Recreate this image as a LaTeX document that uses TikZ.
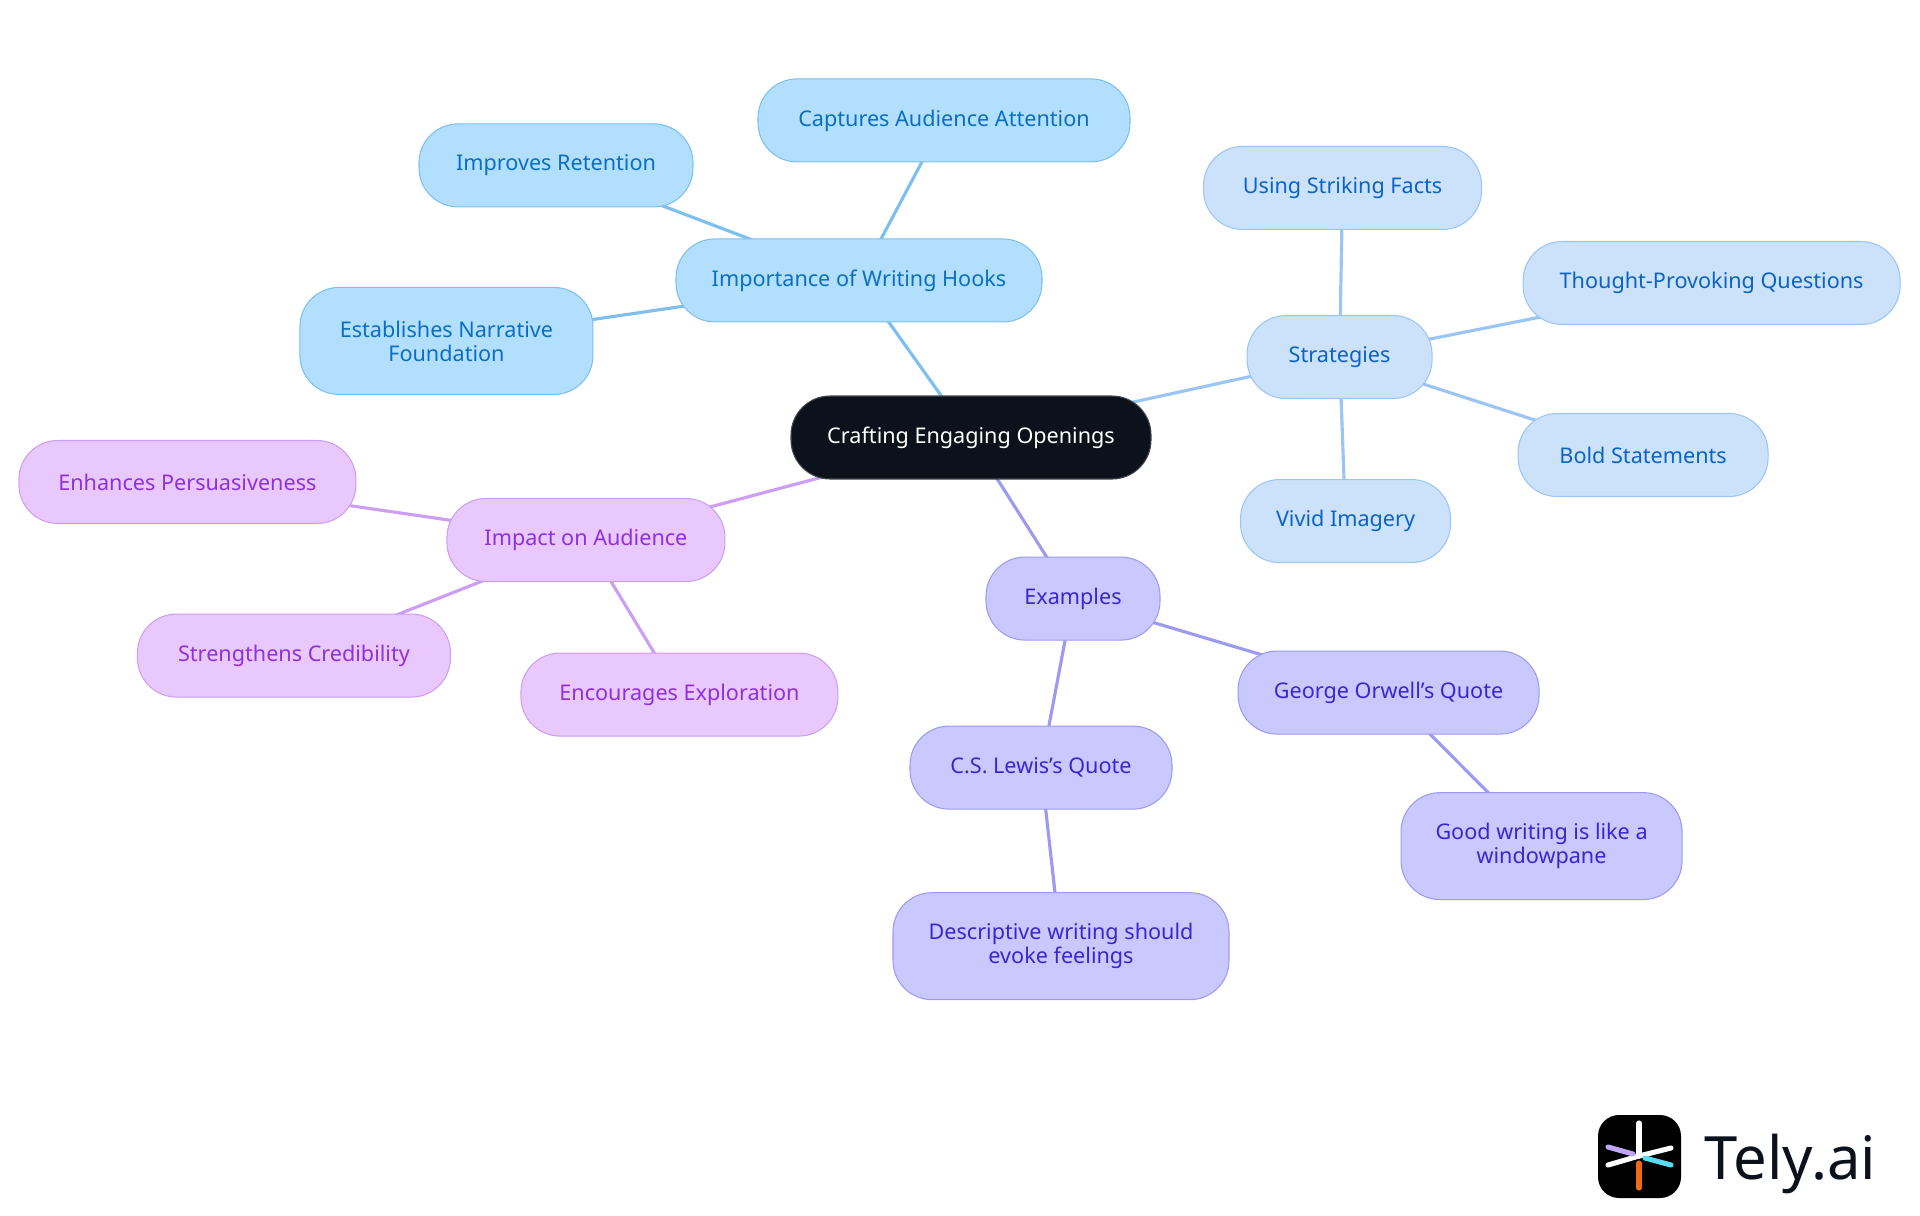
\documentclass[tikz,border=0pt]{standalone}
\usepackage{xcolor}
\usepackage{fontspec}
\setmainfont{Noto Sans}
\usepackage{tikz}
\usetikzlibrary{positioning,backgrounds,calc}
\definecolor{rootfill}  {RGB}{12,18,27}
\definecolor{rootline}  {RGB}{70,74,80}
\definecolor{hookfill}  {RGB}{179,223,255}
\definecolor{hookline}  {RGB}{125,192,240}
\definecolor{hooktext}  {RGB}{10,111,194}
\definecolor{stratfill} {RGB}{204,226,251}
\definecolor{stratline} {RGB}{155,197,245}
\definecolor{strattext} {RGB}{11,99,197}
\definecolor{examfill}  {RGB}{201,201,255}
\definecolor{examline}  {RGB}{157,155,240}
\definecolor{examtext}  {RGB}{58,38,208}
\definecolor{impfill}   {RGB}{232,200,253}
\definecolor{impline}   {RGB}{205,158,245}
\definecolor{imptext}   {RGB}{144,48,221}
\definecolor{logopurple}{RGB}{190,165,245}
\definecolor{logocyan}  {RGB}{90,220,240}
\definecolor{logoorange}{RGB}{240,105,20}
\tikzset{
  mindbox/.style={draw, rounded corners=0.78cm, align=center, inner sep=0pt,
                  minimum width=#1, minimum height=1.66cm, line width=0.6pt,
                  font=\fontsize{12.3}{13.7}\selectfont},
  mindbox/.default=5cm,
  rootbox/.style ={mindbox=#1, fill=rootfill, draw=rootline, text=white},
  hookbox/.style ={mindbox=#1, fill=hookfill, draw=hookline, text=hooktext},
  stratbox/.style={mindbox=#1, fill=stratfill, draw=stratline, text=strattext},
  exambox/.style ={mindbox=#1, fill=examfill, draw=examline, text=examtext},
  impbox/.style  ={mindbox=#1, fill=impfill, draw=impline, text=imptext},
  twoline/.style ={minimum height=2.14cm},
  hookedge/.style ={draw=hookline, line width=1.8pt},
  stratedge/.style={draw=stratline, line width=1.8pt},
  examedge/.style ={draw=examline, line width=1.8pt},
  impedge/.style  ={draw=impline, line width=1.8pt},
  spoke/.style   ={line width=2.9pt, line cap=round},
}
\begin{document}
\begin{tikzpicture}
  \useasboundingbox (0,0) rectangle (38.4,-24.3);
  \node[rootbox=7.2cm] (root) at (19.42,-8.75) {Crafting Engaging Openings};

  \node[hookbox=7.32cm, above=1.46cm of root, xshift=-2.24cm] (hooks) {Importance of Writing Hooks};
  \node[hookbox=7.44cm, above=1.52cm of hooks, xshift=1.70cm] (captures) {Captures Audience Attention};
  \node[hookbox=5.48cm, above=0.62cm of hooks, xshift=-6.06cm] (improves) {Improves Retention};
  \node[hookbox=5.86cm, twoline, left=1.64cm of hooks, yshift=-1.21cm] (narrative)
        {Establishes Narrative\\Foundation};

  \node[stratbox=3.70cm, right=1.90cm of root, yshift=1.61cm] (strat) {Strategies};
  \node[stratbox=5.56cm, above=1.70cm of strat, xshift=0.06cm] (facts) {Using Striking Facts};
  \node[stratbox=7.54cm, right=1.80cm of strat, yshift=1.48cm] (questions) {Thought-Provoking Questions};
  \node[stratbox=5.00cm, right=1.70cm of strat, yshift=-1.96cm] (bold) {Bold Statements};
  \node[stratbox=4.20cm, below=1.60cm of strat, xshift=0.12cm] (vivid) {Vivid Imagery};

  \node[exambox=3.48cm, below=1.54cm of root, xshift=2.04cm] (exam) {Examples};
  \node[exambox=6.02cm, right=1.54cm of exam, yshift=-1.88cm] (orwell) {George Orwell's Quote};
  \node[exambox=5.62cm, twoline, below=1.15cm of orwell, xshift=3.06cm] (windowpane)
        {Good writing is like a\\windowpane};
  \node[exambox=5.24cm, below=1.70cm of exam, xshift=-0.64cm] (lewis) {C.S. Lewis's Quote};
  \node[exambox=6.72cm, twoline, below=1.65cm of lewis, xshift=0.40cm] (feelings)
        {Descriptive writing should\\evoke feelings};

  \node[impbox=5.56cm, left=1.30cm of root, yshift=-2.05cm] (impact) {Impact on Audience};
  \node[impbox=6.74cm, left=1.80cm of impact, yshift=1.16cm] (persuade) {Enhances Persuasiveness};
  \node[impbox=6.26cm, below=0.63cm of impact, xshift=-5.84cm] (cred) {Strengthens Credibility};
  \node[impbox=6.34cm, below=1.41cm of impact, xshift=1.87cm] (explore) {Encourages Exploration};

  \begin{scope}[on background layer]
    \draw[hookedge] (root.center)--(hooks.center);
    \draw[hookedge] (hooks.center)--(captures.center);
    \draw[hookedge] (hooks.center)--(improves.center);
    \draw[hookedge] (hooks.center)--(narrative.center);
    \draw[stratedge] (root.center)--(strat.center);
    \draw[stratedge] (strat.center)--(facts.center);
    \draw[stratedge] (strat.center)--(questions.center);
    \draw[stratedge] (strat.center)--(bold.center);
    \draw[stratedge] (strat.center)--(vivid.center);
    \draw[examedge] (root.center)--(exam.center);
    \draw[examedge] (exam.center)--(orwell.center);
    \draw[examedge] (orwell.center)--(windowpane.center);
    \draw[examedge] (exam.center)--(lewis.center);
    \draw[examedge] (lewis.center)--(feelings.center);
    \draw[impedge] (root.center)--(impact.center);
    \draw[impedge] (impact.center)--(persuade.center);
    \draw[impedge] (impact.center)--(cred.center);
    \draw[impedge] (impact.center)--(explore.center);
  \end{scope}

  % logo
  \node[fill=black, rounded corners=0.42cm, minimum size=1.66cm, inner sep=0pt] (logo) at (32.79,-23.13) {};
  \coordinate (hub) at (32.78,-23.12);
  \draw[spoke, white] (hub) -- ++(0,0.66);
  \draw[spoke, white] (hub) -- ++(-0.62,-0.18);
  \draw[spoke, white] (hub) -- ++(0.64,0.16);
  \draw[spoke, logopurple] ($(hub)+(-0.12,0.04)$) -- ++(-0.50,0.14);
  \draw[spoke, logocyan] ($(hub)+(0.12,-0.04)$) -- ++(0.52,-0.14);
  \draw[spoke, logoorange] ($(hub)+(0,-0.14)$) -- ++(0,-0.50);
  \node[right=0.46cm of logo, yshift=-0.14cm, inner sep=0pt, text=rootfill,
        font=\fontsize{34}{36}\selectfont] (brand) {Tely.ai};
\end{tikzpicture}
\end{document}
